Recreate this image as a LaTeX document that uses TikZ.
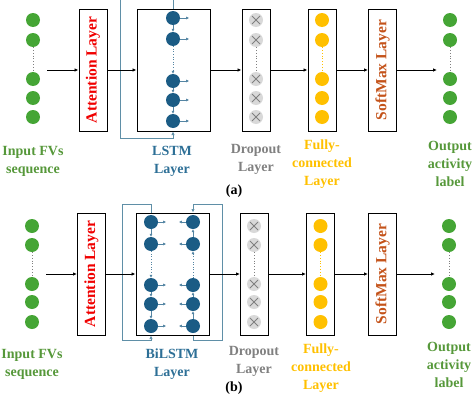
\documentclass[tikz,border=0pt]{standalone}
\usepackage{fontspec}
\setmainfont{Liberation Serif}
\usetikzlibrary{arrows.meta}
\definecolor{dotgreen}{HTML}{45A535}
\definecolor{txtgreen}{HTML}{56983A}
\definecolor{lstmblue}{HTML}{1B5C85}
\definecolor{lstmtxt}{HTML}{2D6F96}
\definecolor{loopblue}{HTML}{5F8FA7}
\definecolor{dropgray}{HTML}{D9D9D9}
\definecolor{crossgray}{HTML}{808080}
\definecolor{fcyellow}{HTML}{FFC000}
\definecolor{attred}{HTML}{F00000}
\definecolor{softbrown}{HTML}{C4531A}
\tikzset{
  layerbox/.style={draw, line width=1pt, inner sep=0pt, minimum width=28pt, minimum height=122pt,
    font=\bfseries\fontsize{15.5}{18}\selectfont},
  gdot/.style={circle, inner sep=0pt, minimum size=14pt, fill=dotgreen},
  ydot/.style={circle, inner sep=0pt, minimum size=14pt, fill=fcyellow},
  xdot/.style={circle, inner sep=0pt, minimum size=14pt, fill=dropgray,
    path picture={\draw[crossgray, line width=0.8pt]
      ([shift={(-4pt,-4pt)}]path picture bounding box.center) -- ([shift={(4pt,4pt)}]path picture bounding box.center)
      ([shift={(-4pt,4pt)}]path picture bounding box.center) -- ([shift={(4pt,-4pt)}]path picture bounding box.center);}},
  cell/.style={circle, inner sep=0pt, minimum size=14pt, fill=lstmblue},
  flow/.style={-{Latex[length=4pt,width=3.5pt]}, line width=0.8pt},
  tinyarr/.style={-{Latex[length=3pt,width=3pt]}, line width=0.6pt, lstmblue!75},
  fback/.style={line width=1pt, loopblue},
  vdots/.style={dotted, line width=0.8pt},
  lbl/.style={font=\bfseries\fontsize{14}{18}\selectfont, align=center, inner sep=0pt}
}
\begin{document}
\begin{tikzpicture}[x=1pt,y=-1pt]
\useasboundingbox (0,0) rectangle (474,399);

% ---- (a) LSTM ----
\foreach \y [count=\i] in {20,40,79,98,117} {
  \node[gdot] (ina\i) at (33,\y){};
  \node[xdot] (dra\i) at (256,\y){};
  \node[ydot] (fca\i) at (322,\y){};
  \node[gdot] (outa\i) at (450,\y){};
}
\draw[vdots, gray] (ina2) -- (ina3);
\draw[vdots, gray] (dra2) -- (dra3);
\draw[vdots, fcyellow] (fca2) -- (fca3);
\draw[vdots, gray] (outa2) -- (outa3);

\node[layerbox] (atta) at (93,70){\rotatebox{90}{\textcolor{attred}{Attention Layer}}};
\node[layerbox, minimum width=73pt] (lstma) at (173.5,70){};
\node[layerbox] (dropa) at (256,70){};
\node[layerbox] (fulla) at (322,70){};
\node[layerbox] (softa) at (382.5,70){\rotatebox{90}{\textcolor{softbrown}{SoftMax Layer}}};

\foreach \y [count=\i] in {18,39,81,100,121} {
  \node[cell] (la\i) at (173,\y){};
  \draw[tinyarr] (la\i.east) -- ++(9,0);
}
\draw[tinyarr] (la1) -- (la2);
\draw[tinyarr, dotted] (la2) -- (la3);
\draw[tinyarr] (la3) -- (la4);
\draw[tinyarr] (la4) -- (la5);

\coordinate (topa) at (173,0);
\coordinate (loopa) at (120,0);
\coordinate (bota) at (173,138);
\draw[fback] (la1 |- lstma.north) -- (topa);
\draw[fback, -{Latex[length=3.5pt,width=3.5pt]}] (loopa) |- (bota) -- (la5 |- lstma.south);

\coordinate (srca) at (47,70);
\coordinate (dsta) at (437,70);
\draw[flow] (srca) -- (atta);
\draw[flow] (atta) -- (lstma);
\draw[flow] (lstma) -- (dropa);
\draw[flow] (dropa) -- (fulla);
\draw[flow] (fulla) -- (softa);
\draw[flow] (softa) -- (dsta);

\node[lbl, txtgreen] (inlbla) at (33,161){Input FVs\\sequence};
\node[lbl, lstmtxt] (lstmlbla) at (172,161){LSTM\\Layer};
\node[lbl, crossgray] (droplbla) at (256,159){Dropout\\Layer};
\node[lbl, fcyellow] (fclbla) at (322,164){Fully-\\connected\\Layer};
\node[lbl, txtgreen] (outlbla) at (450,164){Output\\activity\\label};
\node[lbl] (capa) at (234,191){(a)};

% ---- (b) BiLSTM ----
\foreach \y [count=\i] in {226,245,284,302,322} {
  \node[gdot] (inb\i) at (32,\y){};
  \node[xdot] (drb\i) at (254,\y){};
  \node[ydot] (fcb\i) at (320.5,\y){};
  \node[gdot] (outb\i) at (449,\y){};
}
\draw[vdots, gray] (inb2) -- (inb3);
\draw[vdots, gray] (drb2) -- (drb3);
\draw[vdots, fcyellow] (fcb2) -- (fcb3);
\draw[vdots, gray] (outb2) -- (outb3);

\node[layerbox] (attb) at (91.5,274){\rotatebox{90}{\textcolor{attred}{Attention Layer}}};
\node[layerbox, minimum width=73pt] (lstmb) at (172.5,274){};
\node[layerbox] (dropb) at (254.5,274){};
\node[layerbox] (fullb) at (320.5,274){};
\node[layerbox] (softb) at (382.5,274){\rotatebox{90}{\textcolor{softbrown}{SoftMax Layer}}};

\foreach \y [count=\i] in {222,244,285,304,326} {
  \node[cell] (lb\i) at (151,\y){};
  \node[cell] (rb\i) at (193,\y){};
  \draw[tinyarr] (lb\i.east) -- ++(8,0);
  \draw[tinyarr] (rb\i.west) -- ++(-7,0);
}
\draw[tinyarr] (lb1) -- (lb2);
\draw[tinyarr, dotted] (lb2) -- (lb3);
\draw[tinyarr] (lb3) -- (lb4);
\draw[tinyarr] (lb4) -- (lb5);
\draw[tinyarr] (rb2) -- (rb1);
\draw[tinyarr, dotted] (rb3) -- (rb2);
\draw[tinyarr] (rb4) -- (rb3);
\draw[tinyarr] (rb5) -- (rb4);

\coordinate (lloopt) at (122,204);
\coordinate (lloopb) at (151,340);
\coordinate (rloopb) at (222,340);
\coordinate (rloopt) at (193,204);
\draw[fback, -{Latex[length=3.5pt,width=3.5pt]}] (lb1 |- lstmb.north) |- (lloopt) |- (lloopb) -- (lb5 |- lstmb.south);
\draw[fback, -{Latex[length=3.5pt,width=3.5pt]}] (rb5 |- lstmb.south) |- (rloopb) |- (rloopt) -- (rb1 |- lstmb.north);

\coordinate (srcb) at (46,274);
\coordinate (dstb) at (435,274);
\draw[flow] (srcb) -- (attb);
\draw[flow] (attb) -- (lstmb);
\draw[flow] (lstmb) -- (dropb);
\draw[flow] (dropb) -- (fullb);
\draw[flow] (fullb) -- (softb);
\draw[flow] (softb) -- (dstb);

\node[lbl, txtgreen] (inlblb) at (32,364){Input FVs\\sequence};
\node[lbl, lstmtxt] (lstmlblb) at (172,364){BiLSTM\\Layer};
\node[lbl, crossgray] (droplblb) at (254,361){Dropout\\Layer};
\node[lbl, fcyellow] (fclblb) at (321,368){Fully-\\connected\\Layer};
\node[lbl, txtgreen] (outlblb) at (449,365){Output\\activity\\label};
\node[lbl] (capb) at (234,388){(b)};
\end{tikzpicture}
\end{document}
